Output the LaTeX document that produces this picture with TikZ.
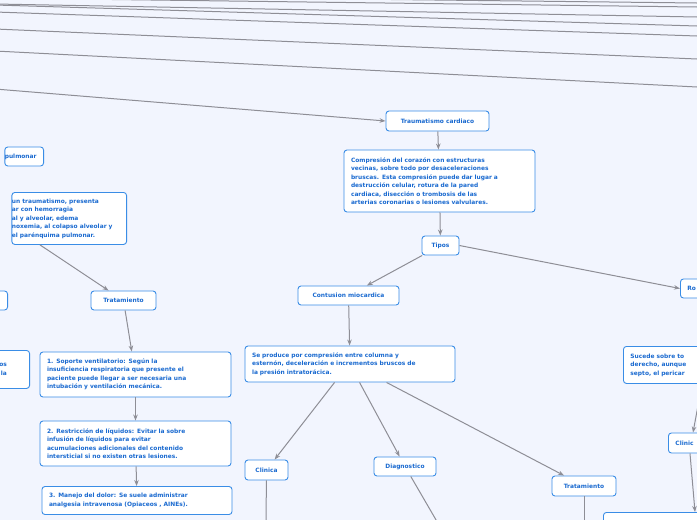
\documentclass[tikz,border=0pt]{standalone}
\usepackage{fontspec}
\setmainfont{DejaVu Sans}
\usetikzlibrary{arrows.meta}
\definecolor{bg}{HTML}{F2F5FE}
\definecolor{bd}{HTML}{3A8DE6}
\definecolor{tx}{HTML}{1A6AD0}
\definecolor{ln}{HTML}{8E8E96}
\tikzset{
 box/.style={draw=bd,line width=0.9pt,fill=white,rounded corners=3pt,font=\bfseries\fontsize{5.9}{8.5}\selectfont,text=tx,inner xsep=7pt,inner ysep=4pt,align=left},
 lbl/.style={box,align=center},
 con/.style={draw=ln,line width=1pt,-{Stealth[length=6pt,width=4.5pt]}},
 bare/.style={draw=ln,line width=1pt}
}
\begin{document}
\begin{tikzpicture}[x=1pt,y=-1pt]
\fill[bg] (0,0) rectangle (697,520);
\useasboundingbox (0,0) rectangle (697,520);
\clip (0,0) rectangle (697,520);
% long lines from the top
\coordinate (a1) at (-5,-2); \coordinate (b1) at (697,7);
\coordinate (a2) at (-5,4); \coordinate (b2) at (697,17);
\coordinate (a3) at (-5,5); \coordinate (b3) at (697,26);
\coordinate (a4) at (-5,12); \coordinate (b4) at (697,36);
\coordinate (a5) at (-5,29); \coordinate (b5) at (697,59);
\coordinate (a6) at (-5,51); \coordinate (b6) at (697,87);
\coordinate (a7) at (260,-2); \coordinate (b7) at (697,3);
\foreach \i in {1,...,7} \draw[bare] (a\i) -- (b\i);
\coordinate (a8) at (-5,89);
% right part
\node[lbl,minimum width=103pt,minimum height=20pt] (tc) at (437.5,121) {Traumatismo cardiaco};
\node[box,text width=177pt,minimum height=62pt] (comp) at (439.5,181) {Compresión del corazón con estructuras\\ vecinas, sobre todo por desaceleraciones\\ bruscas. Esta compresión puede dar lugar a\\ destrucción celular, rotura de la pared\\ cardiaca, disección o trombosis de las\\ arterias coronarias o lesiones valvulares.};
\node[lbl,minimum width=37pt,minimum height=19pt] (tipos) at (440.5,245.5) {Tipos};
\node[lbl,minimum width=101pt,minimum height=19pt] (cont) at (348.5,295.5) {Contusion miocardica};
\node[box,anchor=west,text width=46pt,minimum height=19pt] (ro) at (680,288.5) {Ro};
\node[box,text width=196pt,minimum height=36pt] (seprod) at (350,364) {Se produce por compresión entre columna y\\ esternón, deceleración e incrementos bruscos de\\ la presión intratorácica.};
\node[lbl,minimum width=43pt,minimum height=20pt] (clin) at (266.5,470) {Clinica};
\node[lbl,minimum width=62pt,minimum height=19pt] (diag) at (405,466.5) {Diagnostico};
\node[lbl,minimum width=64pt,minimum height=20pt] (trat2) at (584,486) {Tratamiento};
\node[box,anchor=north west,text width=136pt,minimum height=37pt] (suc) at (623,346) {Sucede sobre to\\ derecho, aunque\\ septo, el pericar};
\node[box,anchor=west,text width=46pt,minimum height=20pt] (clin2) at (668,443) {Clinic};
\node[box,anchor=north west,minimum width=150pt,minimum height=30pt] (bot) at (603,512) {};
\coordinate (c1) at (266,525); \coordinate (c2) at (439,525); \coordinate (c3) at (584,525);
\coordinate (s1) at (700,395);
% left part
\node[box,anchor=east,minimum height=19pt,inner xsep=0pt] (pul) at (44,156.5) {pulmonar\hspace{7pt}};
\coordinate (p1) at (0,182);
\node[box,anchor=north east,minimum height=52pt,inner xsep=0pt] (pdesc) at (127,192) {\begin{tabular}{@{}l@{\hspace{14pt}}}un traumatismo, presenta\\ ar con hemorragia\\ al y alveolar, edema\\ noxemia, al colapso alveolar y\\ el parénquima pulmonar.\end{tabular}};
\node[lbl,minimum width=65pt,minimum height=19pt] (trat1) at (123.5,300.5) {Tratamiento};
\node[box,anchor=east,minimum width=60pt,minimum height=19pt] (lb) at (8,300.5) {};
\node[box,anchor=north east,minimum width=60pt,minimum height=38pt,inner xsep=0pt] (lb2) at (30,350) {\begin{tabular}{@{}r@{\hspace{4pt}}}or los\\ y la\\ \end{tabular}};
\node[box,text width=177pt,minimum height=45pt] (s1n) at (135.5,374.5) {1. Soporte ventilatorio: Según la\\ insuficiencia respiratoria que presente el\\ paciente puede llegar a ser necesaria una\\ intubación y ventilación mecánica.};
\node[box,text width=177pt,minimum height=45pt] (s2n) at (135.5,443.5) {2. Restricción de líquidos: Evitar la sobre\\ infusión de líquidos para evitar\\ acumulaciones adicionales del contenido\\ intersticial si no existen otras lesiones.};
\node[box,text width=176pt,minimum height=28pt] (s3n) at (137,500.5) {3. Manejo del dolor: Se suele administrar\\ analgesia intravenosa (Opiaceos , AINEs).};
% connectors
\draw[con] (a8) -- (tc.west);
\draw[con] (tc) -- (comp);
\draw[con] (comp) -- (tipos);
\draw[con] (tipos) -- (cont);
\draw[con] (tipos.east) -- (ro.west);
\draw[con] (cont) -- (seprod);
\draw[con] ([xshift=90pt]seprod.south west) -- (clin);
\draw[con] ([xshift=115pt]seprod.south west) -- (diag);
\draw[con] ([xshift=142pt]seprod.south west) -- (trat2);
\draw[bare] (clin) -- (c1);
\draw[bare] (diag) -- (c2);
\draw[bare] (trat2) -- (c3);
\draw[con] (s1) -- ([xshift=25pt]clin2.north west);
\draw[con] ([xshift=22pt]clin2.south west) -- ([xshift=92pt]bot.north west);
\draw[con] ([xshift=-87pt]pdesc.south east) -- (trat1);
\draw[con] (trat1) -- (s1n);
\draw[con] (s1n) -- (s2n);
\draw[con] (s2n) -- (s3n);
\end{tikzpicture}
\end{document}
